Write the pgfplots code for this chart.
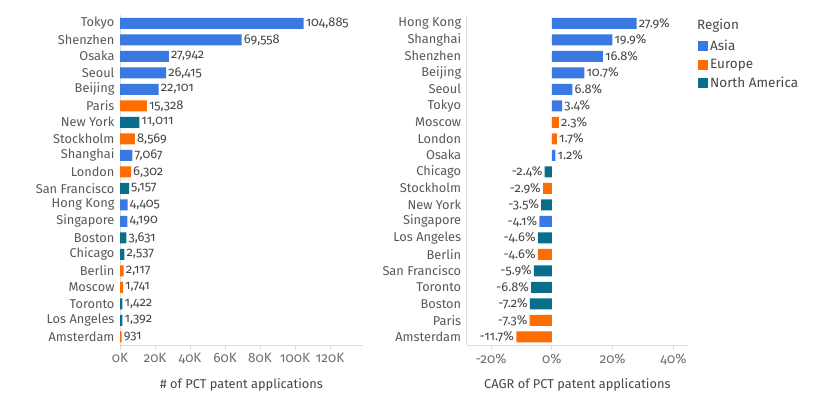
\documentclass[border=0pt]{standalone}
\usepackage{fontspec}
\setmainfont{Fira Sans}[Numbers=OldStyle]
\usepackage{pgfplots}
\usepackage{pgfplotstable}
\pgfplotsset{compat=1.18}
\definecolor{asia}{RGB}{58,121,225}
\definecolor{europe}{RGB}{255,108,0}
\definecolor{namer}{RGB}{8,110,140}
\definecolor{txt}{RGB}{88,88,88}
\definecolor{vtxt}{RGB}{70,70,70}
\definecolor{axln}{RGB}{220,220,220}
\definecolor{ticktxt}{RGB}{110,110,110}

% left panel: counts
\pgfplotstableread{
i v
0 104885
1 69558
2 27942
3 26415
4 22101
8 7067
11 4405
12 4190
}\leftAsia
\pgfplotstableread{
i v
5 15328
7 8569
9 6302
15 2117
16 1741
19 931
}\leftEurope
\pgfplotstableread{
i v
6 11011
10 5157
13 3631
14 2537
17 1422
18 1392
}\leftNA
% right panel: CAGR
\pgfplotstableread{
i v
0 27.9
1 19.9
2 16.8
3 10.7
4 6.8
5 3.4
8 1.2
12 -4.1
}\rightAsia
\pgfplotstableread{
i v
6 2.3
7 1.7
10 -2.9
14 -4.6
18 -7.3
19 -11.7
}\rightEurope
\pgfplotstableread{
i v
9 -2.4
11 -3.5
13 -4.6
15 -5.9
16 -6.8
17 -7.2
}\rightNA

\pgfplotsset{
  panel/.style={
    scale only axis,
    height=330pt,
    y dir=reverse,
    ymin=-0.5, ymax=19.5,
    ytick={0,...,19},
    axis x line*=bottom,
    axis y line*=left,
    axis line style={draw=axln,line width=0.8pt,-},
    tick align=outside,
    major tick length=5pt,
    scaled x ticks=false,
    xtick style={draw=axln,line width=0.8pt},
    ytick style={draw=none},
    yticklabel style={font=\fontsize{12.8}{14}\selectfont,text=txt,xshift=3pt},
    xticklabel style={font=\fontsize{13.5}{15}\selectfont,text=ticktxt},
    xlabel style={font=\fontsize{12.8}{15}\selectfont,text=vtxt,at={(axis description cs:0.5,-0.1212)},anchor=center},
    /pgf/number format/assume math mode=true,
    xbar, bar width=11pt, bar shift=0pt,
    point meta=x,
    nodes near coords align=horizontal,
    every node near coord/.append style={font=\fontsize{12.8}{14}\selectfont,text=vtxt,inner sep=2pt},
    clip=false,
  }
}

\begin{document}
\begin{tikzpicture}
\useasboundingbox (0pt,0pt) rectangle (832pt,-404pt);
\begin{axis}[panel,
  at={(120pt,-15pt)}, anchor=north west,
  width=243pt,
  xmin=0, xmax=138857,
  xtick={0,20000,40000,60000,80000,100000,120000},
  xticklabels={0K,20K,40K,60K,80K,100K,120K},
  yticklabels={Tokyo,Shenzhen,Osaka,Seoul,Beijing,Paris,New York,Stockholm,Shanghai,London,San Francisco,Hong Kong,Singapore,Boston,Chicago,Berlin,Moscow,Toronto,Los Angeles,Amsterdam},
  xlabel={\# of PCT patent applications},
  nodes near coords={\pgfmathprintnumber[fixed,precision=0,1000 sep={,}]{\pgfplotspointmeta}},
]
\addplot[fill=asia,draw=none] table[x=v,y=i]{\leftAsia};
\addplot[fill=europe,draw=none] table[x=v,y=i]{\leftEurope};
\addplot[fill=namer,draw=none] table[x=v,y=i]{\leftNA};
\end{axis}

\begin{axis}[panel,
  at={(466.7pt,-15pt)}, anchor=north west,
  width=221.3pt,
  xmin=-28, xmax=44.8,
  xtick={-20,0,20,40},
  xticklabels={-20\%,0\%,20\%,40\%},
  yticklabels={Hong Kong,Shanghai,Shenzhen,Beijing,Seoul,Tokyo,Moscow,London,Osaka,Chicago,Stockholm,New York,Singapore,Los Angeles,Berlin,San Francisco,Toronto,Boston,Paris,Amsterdam},
  xlabel={CAGR of PCT patent applications},
  nodes near coords={\pgfmathprintnumber[fixed,fixed zerofill,precision=1]{\pgfplotspointmeta}\%},
  legend style={at={(axis description cs:1.045,0.93)},anchor=north west,draw=none,fill=none,
    font=\fontsize{13.5}{15}\selectfont,text=vtxt,inner sep=0pt,row sep=3pt,
    nodes={inner xsep=2pt}},
  legend cell align=left,
  legend image code/.code={\fill[#1,draw=none] (0pt,-5pt) rectangle (10pt,5pt);},
]
\addplot[fill=asia,draw=none] table[x=v,y=i]{\rightAsia};
\addlegendentry{Asia}
\addplot[fill=europe,draw=none] table[x=v,y=i]{\rightEurope};
\addlegendentry{Europe}
\addplot[fill=namer,draw=none] table[x=v,y=i]{\rightNA};
\addlegendentry{North America}
\node[anchor=west,font=\fontsize{13.5}{15}\selectfont,text=vtxt,inner sep=0pt] at (axis description cs:1.04,0.968) {Region};
\end{axis}
\end{tikzpicture}
\end{document}
